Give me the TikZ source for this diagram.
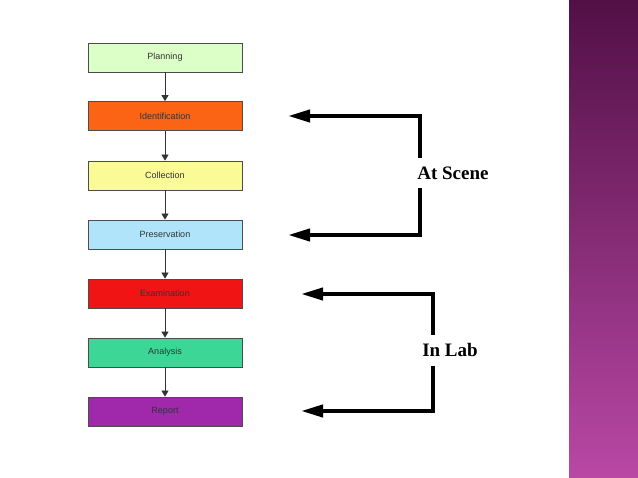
\documentclass[tikz,border=0pt]{standalone}
\usepackage{fontspec}
\setmainfont{Liberation Sans}
\newfontfamily\serifbf{Liberation Serif}
\usetikzlibrary{arrows.meta}
\begin{document}
\begin{tikzpicture}[x=1pt,y=-1pt,
  box/.style={draw=black!70,line width=0.8pt,minimum width=154pt,minimum height=29pt,font=\fontsize{9}{10}\selectfont,text=black!80,inner sep=0pt},
  flow/.style={draw=black!80,line width=0.8pt,-{Triangle[length=6pt,width=7pt]}},
  bracket/.style={line width=4pt,-{Triangle[length=22pt,width=12pt]}},
  lbl/.style={font=\serifbf\bfseries\fontsize{19}{20}\selectfont}]
\useasboundingbox (0,0) rectangle (638,478);
\fill[white] (0,0) rectangle (638,478);
\shade[top color={rgb,255:red,82;green,16;blue,70},bottom color={rgb,255:red,185;green,72;blue,165}] (569,0) rectangle (638,478);
\node[box,fill={rgb,255:red,220;green,255;blue,200}] (p) at (165,57.5) {Planning};
\node[box,fill={rgb,255:red,250;green,100;blue,20}] (i) at (165,116) {Identification};
\node[box,fill={rgb,255:red,250;green,250;blue,150}] (c) at (165,175.5) {Collection};
\node[box,fill={rgb,255:red,175;green,228;blue,250}] (s) at (165,234.5) {Preservation};
\node[box,fill={rgb,255:red,240;green,20;blue,20}] (e) at (165,293.5) {Examination};
\node[box,fill={rgb,255:red,60;green,215;blue,150}] (a) at (165,352.5) {Analysis};
\node[box,fill={rgb,255:red,160;green,40;blue,170}] (r) at (165,411.5) {Report};
\foreach \u/\v in {p/i,i/c,c/s,s/e,e/a,a/r} \draw[flow] (\u) -- (\v);
\node[lbl] (as) at (453,173) {At Scene};
\node[lbl] (il) at (450,350) {In Lab};
\coordinate (ia) at (288,116);
\coordinate (sa) at (288,235);
\coordinate (ea) at (301,294);
\coordinate (ra) at (301,411);
\draw[bracket] (420,158) |- (ia);
\draw[bracket] (420,188) |- (sa);
\draw[bracket] (433,335) |- (ea);
\draw[bracket] (433,366) |- (ra);
\end{tikzpicture}
\end{document}
